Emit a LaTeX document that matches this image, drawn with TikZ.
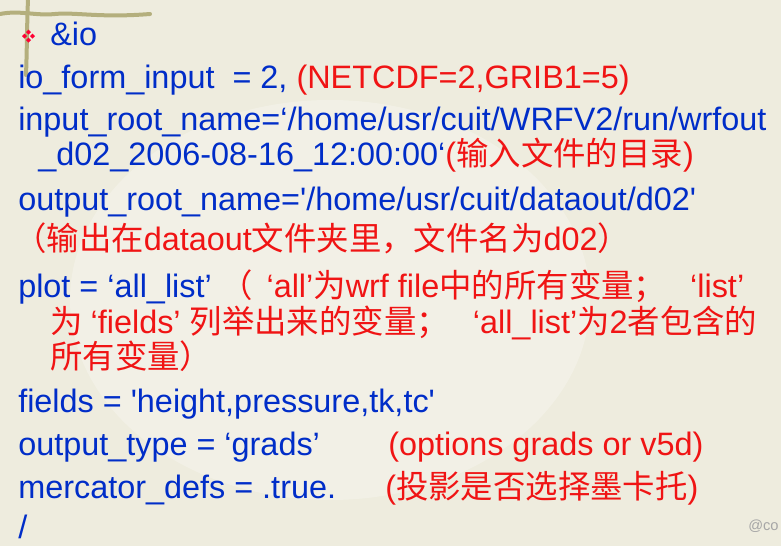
\documentclass[tikz,border=0pt]{standalone}
\usepackage{fontspec}
\setmainfont{Liberation Sans}
\newfontfamily\cjk{Noto Sans CJK SC}
\definecolor{bg}{RGB}{238,236,222}
\definecolor{tb}{RGB}{0,45,200}
\definecolor{tr}{RGB}{240,20,20}
\definecolor{olive}{RGB}{180,175,125}
\newcommand{\sq}{\textquotesingle}
\begin{document}
\begin{tikzpicture}[x=0.75pt,y=-0.75pt,
  ln/.style={anchor=base west,inner sep=0pt,font=\fontsize{24.3}{26}\selectfont,text=tb},
  rd/.style={text=tr}]
\useasboundingbox (0,0) rectangle (781,546);
\fill[bg] (0,0) rectangle (781,546);
\fill[white,opacity=0.25] (330,300) ellipse (260 and 200);
\draw[olive,line width=3pt,line cap=round] (0,14) .. controls (20,10) and (35,16) .. (55,14) .. controls (75,12) and (100,18) .. (150,14);
\draw[olive,line width=3pt,line cap=round] (28,0) .. controls (27,20) and (27,50) .. (26,75);
\foreach \dx/\dy in {0/-4,4/0,0/4,-4/0}
  \fill[red!80!magenta] (26+\dx,36+\dy) -- ++(2.5,-2.5) -- ++(2.5,2.5) -- ++(-2.5,2.5) -- cycle;
\node[ln] (l1) at (50,45) {\&io};
\node[ln] (l2) at (18,88) {io\_form\_input~ = 2, \textcolor{tr}{(NETCDF=2,GRIB1=5)}};
\node[ln] (l3) at (18,130) {input\_root\_name=‘/home/usr/cuit/WRFV2/run/wrfout};
\node[ln] (l4) at (38,165) {\_d02\_2006-08-16\_12:00:00‘\textcolor{tr}{({\cjk 输入文件的目录})}};
\node[ln] (l5) at (18,210) {output\_root\_name=\sq/home/usr/cuit/dataout/d02\sq};
\node[ln,text=tr] (l6) at (14,250) {{\cjk （输出在}dataout{\cjk 文件夹里，文件名为}d02{\cjk ）}};
\node[ln] (l7) at (18,297) {plot = ‘all\_list’ \textcolor{tr}{{\cjk （}\hspace{10pt}‘all’{\cjk 为}wrf file{\cjk 中的所有变量；}\hspace{18pt}‘list’}};
\node[ln,text=tr] (l8) at (50,333) {{\cjk 为}\hspace{6pt}‘fields’ {\cjk 列举出来的变量；}\hspace{18pt}‘all\_list’{\cjk 为}2{\cjk 者包含的}};
\node[ln,text=tr] (l9) at (50,368) {{\cjk 所有变量）}};
\node[ln] (l10) at (18,412) {fields = \sq height,pressure,tk,tc\sq};
\node[ln] (l11) at (18,455) {output\_type = ‘grads’};
\node[ln,text=tr] (l11r) at (388,455) {(options grads or v5d)};
\node[ln] (l12) at (18,498) {mercator\_defs = .true.};
\node[ln,text=tr] (l12r) at (385,498) {({\cjk 投影是否选择墨卡托})};
\node[ln] (l13) at (18,538) {/};
\node[anchor=base west,inner sep=0pt,text=gray!70,font=\fontsize{11}{12}\selectfont] (wm) at (748,530) {@co};
\end{tikzpicture}
\end{document}
